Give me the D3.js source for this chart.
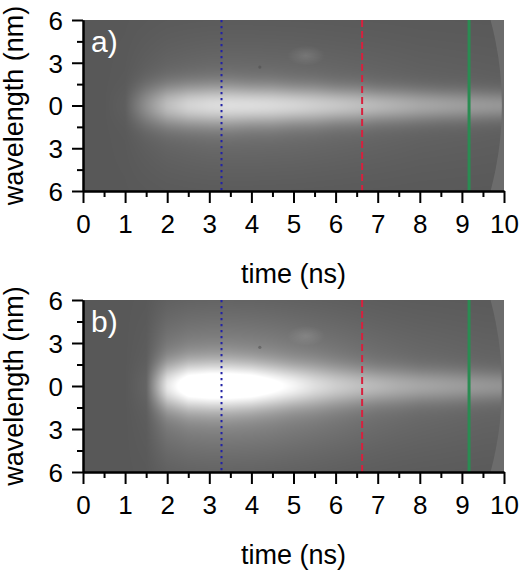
<!DOCTYPE html>
<html>
<head>
<meta charset="utf-8">
<script src="https://cdn.jsdelivr.net/npm/d3@7"></script>
<style>
  body { margin: 0; background: #fff; }
  svg text { font-family: "Liberation Sans", Arial, sans-serif; }
</style>
</head>
<body>
<svg id="streak"></svg>
<script>
// sample times (ns) of the streak images
const times = [0, 0.5, 1, 1.5, 2, 2.5, 3, 3.5, 4, 4.5, 5, 5.5, 6, 6.5, 7, 7.5, 8, 8.5, 9, 9.5, 10];

// panel a) : core line amplitude / width, broad halo amplitude (gray levels above background)
const coreA  = [0, 0, 4, 45, 82, 100, 105, 107, 106, 104, 100, 95, 90, 84, 78, 72, 66, 62, 58, 55, 53];
const sigmaA = [0.9, 0.9, 0.9, 1.0, 1.0, 1.0, 1.0, 1.0, 0.95, 0.95, 0.9, 0.9, 0.85, 0.85, 0.8, 0.8, 0.78, 0.75, 0.75, 0.72, 0.7];
const haloA  = [0, 0, 2, 10, 18, 22, 25, 26, 26, 25, 24, 22, 20, 18, 16, 14, 12, 11, 10, 9, 8];

// panel b)
const coreB  = [0, 0, 0, 6, 97, 134, 140, 140, 137, 121, 107, 90, 79, 72, 67, 61, 57, 54, 51, 48, 45];
const sigmaB = [1.0, 1.0, 1.0, 1.0, 1.1, 1.15, 1.15, 1.15, 1.1, 1.05, 1.0, 1.0, 0.95, 0.9, 0.85, 0.85, 0.8, 0.8, 0.78, 0.75, 0.72];
const haloB  = [0, 0, 0, 6, 45, 58, 62, 62, 60, 56, 50, 44, 38, 32, 27, 23, 20, 18, 16, 14, 13];

const panelNames = ["a)", "b)"];
const haloSigma = [3.0, 3.3];
const background = [88, 88];

// the detector edge (circle) crosses the plot at these times: middle row, top/bottom rows
const edgeMid = 9.95;
const edgeCorner = 9.68;

// small bright blob and dark speck seen in both images
const blobTime = [5.3], blobWave = [3.5];
const speckTime = [4.2], speckWave = [2.7];

// vertical markers (ns)
const markerTimes = [3.29, 6.63, 9.17];

const xTicks = [0, 1, 2, 3, 4, 5, 6, 7, 8, 9, 10];
const xMinor = [0.5, 1.5, 2.5, 3.5, 4.5, 5.5, 6.5, 7.5, 8.5, 9.5];
const yTicks = [6, 3, 0, -3, -6];
const yMinor = [4.5, 1.5, -1.5, -4.5];

const W = 520, H = 571;
const left = 83, plotW = 421;
const tops = [20, 300];
const plotH = [171, 172];

const markerStyle = [
  {color: "#2222a6", width: 2, dash: "2.2,3.8"},
  {color: "#d8203e", width: 2, dash: "7,4"},
  {color: "#2a8c52", width: 3, dash: null},
];

const svg = d3.select("svg#streak").attr("width", W).attr("height", H);
const defs = svg.append("defs");

const blobGrad = defs.append("radialGradient").attr("id", "blob");
blobGrad.append("stop").attr("offset", "0%").attr("stop-color", "#fff").attr("stop-opacity", 0.12);
blobGrad.append("stop").attr("offset", "100%").attr("stop-color", "#fff").attr("stop-opacity", 0);

// one canvas pixel per screen pixel; the time profiles are read through polylinear scales
function heatImage(core, sigma, halo, p, x, y, h) {
  const cv = document.createElement("canvas");
  cv.width = plotW;
  cv.height = h;
  const ctx = cv.getContext("2d");
  const img = ctx.createImageData(plotW, h);
  const coreAt = d3.scaleLinear().domain(times).range(core).clamp(true);
  const sigAt = d3.scaleLinear().domain(times).range(sigma).clamp(true);
  const haloAt = d3.scaleLinear().domain(times).range(halo).clamp(true);
  const hs2 = 2 * haloSigma[p] * haloSigma[p];
  for (let px = 0; px < plotW; px++) {
    const t = x.invert(px + 0.5);
    const c = coreAt(t), s = sigAt(t), hl = haloAt(t);
    for (let py = 0; py < h; py++) {
      const lam = y.invert(py + 0.5);
      let v = background[p] + c * Math.exp(-lam * lam / (2 * s * s)) + hl * Math.exp(-lam * lam / hs2);
      v = Math.min(255, Math.round(v));
      const k = 4 * (py * plotW + px);
      img.data[k] = img.data[k + 1] = img.data[k + 2] = v;
      img.data[k + 3] = 255;
    }
  }
  ctx.putImageData(img, 0, 0);
  return cv.toDataURL();
}

const series = [[coreA, sigmaA, haloA], [coreB, sigmaB, haloB]];

series.forEach(([core, sigma, halo], p) => {
  const h = plotH[p];
  const g = svg.append("g").attr("transform", "translate(" + left + "," + tops[p] + ")");

  const x = d3.scaleLinear().domain([0, 10]).range([0, plotW]);
  const y = d3.scaleLinear().domain([-6, 6]).range([h, 0]);

  defs.append("clipPath").attr("id", "clip" + p)
    .append("rect").attr("width", plotW).attr("height", h);

  const plot = g.append("g").attr("clip-path", "url(#clip" + p + ")");

  plot.append("image")
    .attr("href", heatImage(core, sigma, halo, p, x, y, h))
    .attr("x", x(0)).attr("y", y(6))
    .attr("width", x(10) - x(0))
    .attr("height", y(-6) - y(6))
    .attr("preserveAspectRatio", "none");

  plot.selectAll("ellipse.blob").data(blobTime).enter().append("ellipse")
    .attr("class", "blob")
    .attr("cx", d => x(d)).attr("cy", (d, i) => y(blobWave[i]))
    .attr("rx", x(0.45) - x(0)).attr("ry", y(0) - y(0.7))
    .attr("fill", "url(#blob)");

  plot.selectAll("circle.speck").data(speckTime).enter().append("circle")
    .attr("class", "speck")
    .attr("cx", d => x(d)).attr("cy", (d, i) => y(speckWave[i]))
    .attr("r", 1.6).attr("fill", "#4a4a4a").attr("opacity", 0.5);

  // detector edge: everything outside the circle is flat gray
  const xm = x(edgeMid), xc = x(edgeCorner), hh = (y(-6) - y(6)) / 2;
  const a = xm - xc;
  const R = (a * a + hh * hh) / (2 * a);
  const cx = xm - R, cy = y(0);
  const outside = d3.path();
  outside.rect(0, 0, plotW, h);
  outside.moveTo(cx + R, cy);
  outside.arc(cx, cy, R, 0, 2 * Math.PI);
  plot.append("path").attr("d", outside.toString())
    .attr("fill-rule", "evenodd").attr("fill", "#6c6c6c");

  plot.selectAll("line.marker").data(markerTimes).enter().append("line")
    .attr("class", "marker")
    .attr("x1", d => x(d)).attr("x2", d => x(d))
    .attr("y1", 0).attr("y2", h)
    .attr("stroke", (d, i) => markerStyle[i].color)
    .attr("stroke-width", (d, i) => markerStyle[i].width)
    .attr("stroke-dasharray", (d, i) => markerStyle[i].dash);

  g.append("text")
    .attr("x", 8).attr("y", 32)
    .attr("fill", "#fff").attr("font-size", "30px")
    .text(panelNames[p]);

  // axes
  g.append("g").attr("transform", "translate(0," + h + ")")
    .call(d3.axisBottom(x).tickValues(xTicks).tickSize(12).tickSizeOuter(0).tickPadding(12));
  g.append("g").attr("transform", "translate(0," + h + ")")
    .call(d3.axisBottom(x).tickValues(xMinor).tickSize(6).tickSizeOuter(0).tickFormat(""));

  const yAxis = g.append("g")
    .call(d3.axisLeft(y).tickValues(yTicks).tickSize(11).tickSizeOuter(0).tickPadding(9)
      .tickFormat(d => Math.abs(d)));
  g.append("g")
    .call(d3.axisLeft(y).tickValues(yMinor).tickSize(6).tickSizeOuter(0).tickFormat(""));

  g.selectAll(".domain, .tick line").attr("stroke", "#000").attr("stroke-width", 2);
  g.selectAll(".tick text").attr("font-size", "26px").attr("fill", "#000")
    .attr("font-family", "'Liberation Sans', Arial, sans-serif");
  yAxis.selectAll(".tick text").attr("dy", "0.36em");

  g.append("text")
    .attr("x", plotW / 2).attr("y", h + 92)
    .attr("text-anchor", "middle").attr("font-size", "27px")
    .text("time (ns)");

  g.append("text")
    .attr("transform", "rotate(-90)")
    .attr("x", -h / 2).attr("y", 23 - left)
    .attr("text-anchor", "middle").attr("font-size", "27px")
    .text("wavelength (nm)");
});
</script>
</body>
</html>
